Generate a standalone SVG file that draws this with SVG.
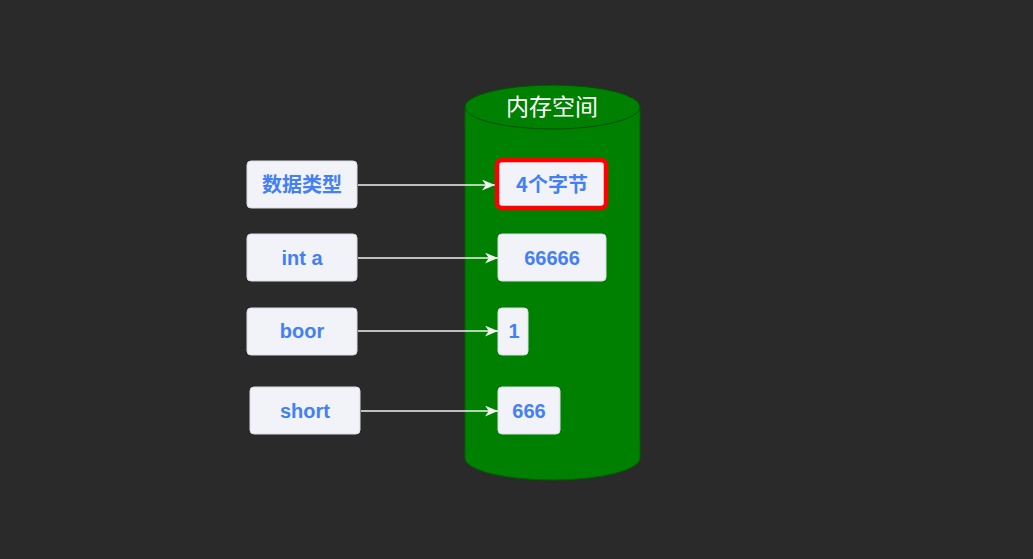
<svg xmlns="http://www.w3.org/2000/svg" width="1033" height="559" viewBox="0 0 1033 559">
<defs>
<style>
.box{fill:#F1F3F8;stroke:#DADCE3;stroke-width:1}
.lbl{font-family:"Liberation Sans","Noto Sans CJK SC",sans-serif;font-weight:bold;font-size:20px;fill:#4580F2;text-anchor:middle}
.edge{stroke:#F0F0F0;stroke-width:1.5;fill:none;marker-end:url(#arr)}
</style>
<marker id="arr" viewBox="0 0 12 10" refX="12" refY="5" markerWidth="13" markerHeight="11" markerUnits="userSpaceOnUse" orient="auto">
<path d="M0,0 L12,5 L0,10 L3.5,5 Z" fill="#F0F0F0"/>
</marker>
</defs>
<rect width="1033" height="559" fill="#2A2A2A"/>
<g id="memory">
<path d="M465,107 L465,458 A87.5,22 0 0 0 640,458 L640,107" fill="#008000" stroke="#006000" stroke-width="1"/>
<ellipse cx="552.5" cy="107" rx="87.5" ry="22" fill="#008000" stroke="#005000" stroke-width="1"/>
<text x="552" y="115" font-family="'Noto Sans CJK SC',sans-serif" font-size="23" fill="#FFFFFF" text-anchor="middle">内存空间</text>
</g>
<g id="connectors">
<line class="edge" x1="358" y1="185" x2="495" y2="185"/>
<line class="edge" x1="358" y1="258" x2="498" y2="258"/>
<line class="edge" x1="358" y1="331" x2="498" y2="331"/>
<line class="edge" x1="361" y1="411" x2="498" y2="411"/>
</g>
<g id="n-datatype"><rect class="box" x="247" y="161" width="110" height="47" rx="4"/><text class="lbl" x="302" y="192" style="font-family:'Noto Sans CJK SC',sans-serif">数据类型</text></g>
<g id="n-inta"><rect class="box" x="247" y="234" width="110" height="47" rx="4"/><text class="lbl" x="302" y="265">int a</text></g>
<g id="n-boor"><rect class="box" x="247" y="308" width="110" height="47" rx="4"/><text class="lbl" x="302" y="338">boor</text></g>
<g id="n-short"><rect class="box" x="250" y="387" width="110" height="47" rx="4"/><text class="lbl" x="305" y="418">short</text></g>
<g id="n-4bytes"><rect x="497" y="160" width="109" height="48" rx="5" fill="#F1F3F8" stroke="#FF0000" stroke-width="4.5"/><text class="lbl" x="552" y="192" style="font-family:'Noto Sans CJK SC',sans-serif">4个字节</text></g>
<g id="n-66666"><rect class="box" x="498" y="234" width="108" height="47" rx="4"/><text class="lbl" x="552" y="265">66666</text></g>
<g id="n-1"><rect class="box" x="498" y="308" width="30" height="47" rx="4"/><text class="lbl" x="514" y="338">1</text></g>
<g id="n-666"><rect class="box" x="498" y="387" width="62" height="47" rx="4"/><text class="lbl" x="529" y="418">666</text></g>
</svg>
